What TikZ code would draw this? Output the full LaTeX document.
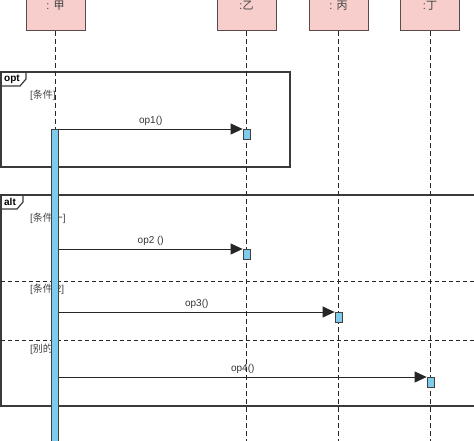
\documentclass[tikz,border=0pt]{standalone}
\usepackage{fontspec}
\setmainfont{Liberation Sans}
\newfontfamily\cjk{Noto Sans CJK SC}
\usetikzlibrary{positioning, arrows.meta, calc}
\usepackage{xcolor}

\definecolor{headpink}{HTML}{F8CECC}
\definecolor{headline}{HTML}{5B4A4A}
\definecolor{actblue}{HTML}{7FCBEB}
\definecolor{frameline}{HTML}{3A3A3A}

\tikzset{
  head/.style={draw=headline, fill=headpink, line width=1pt, minimum width=59pt, minimum height=48pt, inner sep=0pt, font=\fontsize{11}{11}\selectfont, text=black!75},
  lifeline/.style={draw=black!85, line width=0.8pt, dash pattern=on 5pt off 3pt},
  actbar/.style={draw=black!75, fill=actblue, line width=0.8pt, minimum width=7pt, inner sep=0pt},
  msg/.style={-{Triangle[length=12pt,width=11pt]}, draw=black!85, line width=0.9pt},
  msglabel/.style={font=\fontsize{10}{10}\selectfont, text=black!80, inner sep=2.5pt},
  frame/.style={draw=frameline, line width=1.2pt},
  divider/.style={draw=black!85, line width=0.8pt, dash pattern=on 4pt off 3pt},
  guard/.style={font=\fontsize{10}{10}\selectfont, text=black!75, anchor=west, inner sep=0pt},
  tagtext/.style={font=\bfseries\fontsize{10}{10}\selectfont, inner sep=0pt},
}

\begin{document}
\begin{tikzpicture}[x=1pt, y=-1pt]
\useasboundingbox (0,0) rectangle (474,440);
\coordinate (bottom) at (0,445);

% Opt fragment
\draw[frame] (1,72) rectangle (290,167);
\draw[frame] (1,86) -- (20,86) -- (26,79) -- (26,72);
\node[tagtext] (optTag) at (12,79) {opt};
\node[guard] (optGuard) at (30,95) {[{\cjk 条件}]};

% Alt fragment
\draw[frame] (480,195) -- (1,195) -- (1,406) -- (480,406);
\draw[frame] (1,209) -- (17,209) -- (23,202) -- (23,195);
\node[tagtext] (altTag) at (10,202) {alt};
\draw[divider] (1,281) -- (474,281);
\draw[divider] (1,340) -- (474,340);
\node[guard] (altGuard1) at (30,218) {[{\cjk 条件一}]};
\node[guard] (altGuard2) at (30,289) {[{\cjk 条件} 2]};
\node[guard] (altGuard3) at (30,349) {[{\cjk 别的}]};

% Lifeline heads
\node[head] (headA) at (55.5,6) {: {\cjk 甲}};
\node[head] (headB) at (246.5,6) {:{\cjk 乙}};
\node[head] (headC) at (338.5,6) {: {\cjk 丙}};
\node[head] (headD) at (430,6) {:{\cjk 丁}};

% Lifelines
\foreach \h in {headA, headB, headC, headD}
  \draw[lifeline] (\h.south) -- (\h.south |- bottom);

% Activations
\node[actbar, minimum height=316pt, anchor=north] (actA) at (55,129) {};
\node[actbar, minimum height=10pt, anchor=north] (actB1) at (246.5,129) {};
\node[actbar, minimum height=10pt, anchor=north] (actB2) at (246.5,249) {};
\node[actbar, minimum height=10pt, anchor=north] (actC) at (338.5,312) {};
\node[actbar, minimum height=10pt, anchor=north] (actD) at (430.5,377) {};

% Messages
\draw[msg] (actA.east |- actB1.north) -- node[above, msglabel] {op1()} (actB1.north west);
\draw[msg] (actA.east |- actB2.north) -- node[above, msglabel] {op2 ()} (actB2.north west);
\draw[msg] (actA.east |- actC.north) -- node[above, msglabel] {op3()} (actC.north west);
\draw[msg] (actA.east |- actD.north) -- node[above, msglabel] {op4()} (actD.north west);
\end{tikzpicture}
\end{document}
